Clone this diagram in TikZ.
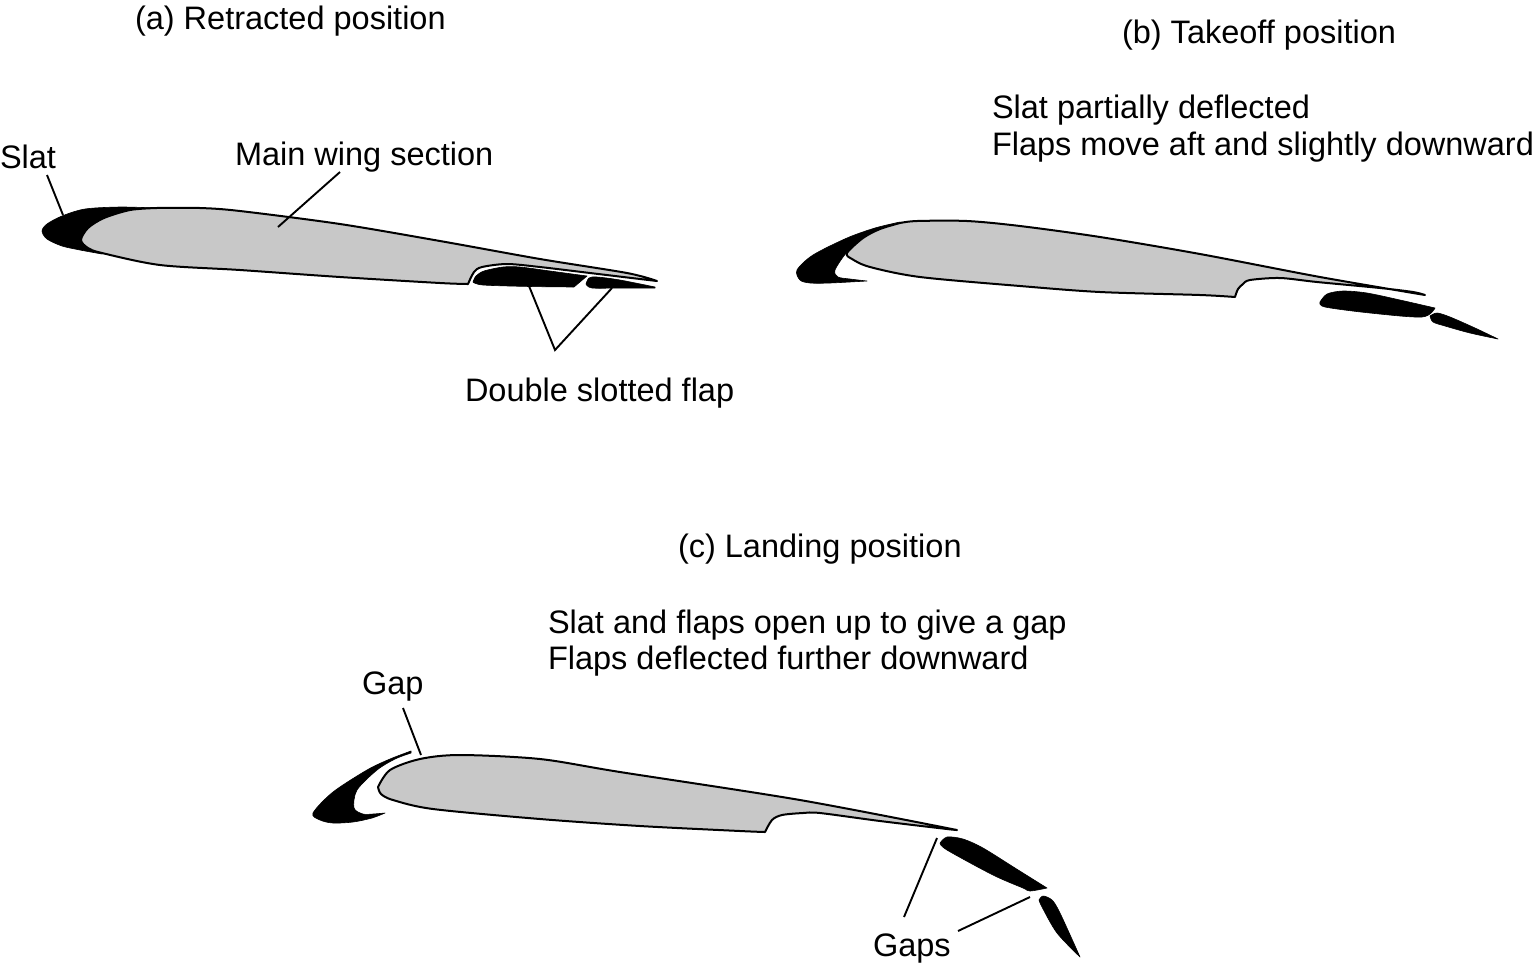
\documentclass[tikz,border=0pt]{standalone}
\usepackage{fontspec}
\setmainfont{Liberation Sans}
\tikzset{
  lbl/.style={anchor=base west,inner sep=0pt,outer sep=0pt,font=\fontsize{16.25}{19}\selectfont,text=black},
  leader/.style={draw=black,line width=0.95pt},
  slatfill/.style={fill=black,draw=black,line width=0.3pt,line join=round},
  wingfill/.style={fill=wgray,draw=black,line width=1pt,line join=round},
  sm/.style={smooth,tension=0.5}
}
\definecolor{wgray}{RGB}{200,200,200}
\begin{document}
\begin{tikzpicture}[x=0.5pt,y=-0.5pt]
\useasboundingbox (0,0) rectangle (1536,966);
% ---------- (a) ----------
\fill[slatfill] plot[sm] coordinates {(156,208)(120,207)(85,209)(62,216)(47,224)(42,231)(47,239)(62,246)(80,250)(102,254)}
  -- plot[sm] coordinates {(102,254)(88,248)(81,240)(88,228)(104,218)(130,210)(156,208)} -- cycle;
\filldraw[wingfill] plot[sm] coordinates {(156,208)(200,208)(240,211)(340,224)(440,241)(540,259)(627,273)(657,281)}
  -- plot[sm] coordinates {(657,281)(640,279)(590,273)(540,267)(507,264)(482,267)(474,272)(468,284)}
  -- plot[sm] coordinates {(468,284)(440,283)(340,277)(240,270)(160,265)(102,253)(88,248)(81,240)(88,228)(104,218)(130,210)(156,208)} -- cycle;
\fill[slatfill] plot[sm] coordinates {(473,282)(476,276)(484,271)(503,267)(520,267)(550,271)(587,276)}
  -- (574,287) -- plot[sm] coordinates {(574,287)(530,286.5)(483,285)(473,282)} -- cycle;
\fill[slatfill] plot[sm] coordinates {(586,284)(589,278)(597,277)(620,280)(655,287)}
  -- plot[sm] coordinates {(655,288)(620,288)(592,288)(586,284)} -- cycle;
% ---------- (b) ----------
\fill[slatfill] plot[sm] coordinates {(900,222)(875,228)(847,238)(813,255)(797,270)(800,280)(810,283)(830,283)(867,281)}
  -- plot[sm] coordinates {(867,281)(850,279)(838,277)(835,270)(847,252)(863,238)(890,225)(900,222)} -- cycle;
\filldraw[wingfill] plot[sm] coordinates {(900,223)(917,221)(967,221)(1020,226)(1100,237)(1200,254)(1320,277)(1425,295)}
  -- plot[sm] coordinates {(1425,295)(1413,292)(1380,288)(1317,282)(1280,278)(1250,280)(1243,284)(1238,289)(1235,297)}
  -- plot[sm] coordinates {(1235,297)(1200,295)(1100,292)(1020,286)(920,277)(870,267)(852,259)(847,253)(863,238)(880,229)(900,223)} -- cycle;
\fill[slatfill] plot[sm] coordinates {(1320,302)(1327,294)(1343,291)(1367,293)(1400,300)(1435,308)}
  -- plot[sm] coordinates {(1435,308)(1422,317)(1370,313)(1325,307)(1320,302)} -- cycle;
\fill[slatfill] plot[sm] coordinates {(1430,316)(1437,313)(1450,317)(1475,328)(1498,339)}
  -- plot[sm] coordinates {(1498,339)(1470,333)(1445,326)(1433,322)(1430,316)} -- cycle;
% ---------- (c) ----------
\fill[slatfill] plot[sm] coordinates {(411,751)(390,759)(367,770)(333,792)(313,813)(320,820)(333,823)(353,822)(372,818)(385,813)}
  -- plot[sm] coordinates {(385,813)(373,814)(363,814)(354,808)(357,790)(377,770)(395,759)(411,753)} -- cycle;
\filldraw[wingfill] plot[sm] coordinates {(378,787)(390,770)(420,759)(460,755)(540,759)(620,772)(800,800)(957,830)}
  -- plot[sm] coordinates {(957,830)(947,829)(880,821)(820,813)(803,813)(782,815)(772,820)(765,832)}
  -- plot[sm] coordinates {(765,832)(740,831)(640,826)(540,819)(433,809)(393,800)(381,794)(378,787)} -- cycle;
\fill[slatfill] plot[sm] coordinates {(940,843)(947,837)(963,839)(983,848)(1015,868)(1047,888)}
  -- plot[sm] coordinates {(1047,888)(1030,891)(1023,888)(993,875)(947,850)(940,843)} -- cycle;
\fill[slatfill] plot[sm] coordinates {(1039,900)(1043,896)(1052,900)(1060,913)(1080,957)}
  -- plot[sm] coordinates {(1080,957)(1057,933)(1042,907)(1039,900)} -- cycle;
% ---------- labels ----------
\node[lbl] (ta) at (135,29.5) {(a) Retracted position};
\node[lbl] (tb) at (1122,43.5) {(b) Takeoff position};
\node[lbl] (tb1) at (992,118) {Slat partially deflected};
\node[lbl] (tb2) at (992,155.5) {Flaps move aft and slightly downward};
\node[lbl] (slat) at (0,168) {Slat};
\node[lbl] (main) at (235,165) {Main wing section};
\node[lbl] (dbl) at (465,401.5) {Double slotted flap};
\node[lbl] (tc) at (678,557) {(c) Landing position};
\node[lbl] (tc1) at (548,633) {Slat and flaps open up to give a gap};
\node[lbl] (tc2) at (548,669.5) {Flaps deflected further downward};
\node[lbl] (gap) at (362,694) {Gap};
\node[lbl] (gaps) at (873,956) {Gaps};
% ---------- leaders ----------
\coordinate (slatA) at (47,175);   \coordinate (slatB) at (63,215);
\coordinate (mainA) at (340,172);  \coordinate (mainB) at (278,227);
\coordinate (dblA) at (555,350);   \coordinate (dblB) at (529,286); \coordinate (dblC) at (612,288);
\coordinate (gapA) at (403,708);   \coordinate (gapB) at (421,755);
\coordinate (gapsA) at (904,917);  \coordinate (gapsB) at (937,838);
\coordinate (gapsC) at (958,931);  \coordinate (gapsD) at (1030,897);
\draw[leader] (slatA) -- (slatB);
\draw[leader] (mainA) -- (mainB);
\draw[leader,line join=miter] (dblB) -- (dblA) -- (dblC);
\draw[leader] (gapA) -- (gapB);
\draw[leader] (gapsA) -- (gapsB);
\draw[leader] (gapsC) -- (gapsD);
\end{tikzpicture}
\end{document}
